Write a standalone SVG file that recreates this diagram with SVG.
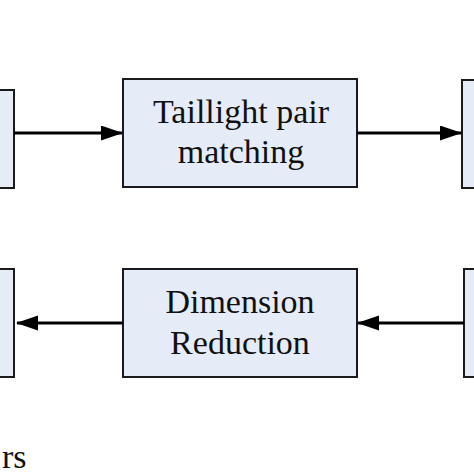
<svg xmlns="http://www.w3.org/2000/svg" width="474" height="474" viewBox="0 0 474 474">
<style>
.box{fill:#E6ECF7;stroke:#1a1a1a;stroke-width:2}
.lbl{font-family:"Liberation Serif","Times New Roman",serif;font-size:34px;fill:#111;text-anchor:middle}
.conn{stroke:#000;stroke-width:2.8;fill:none}
</style>
<defs>
<marker id="ah" markerUnits="userSpaceOnUse" markerWidth="22" markerHeight="16" refX="21" refY="7.5" orient="auto">
<path d="M0,0 L22,7.5 L0,15 Z" fill="#000"/>
</marker>
</defs>
<rect width="474" height="474" fill="#fff"/>
<g id="node-top-left"><rect class="box" x="-10" y="90" width="24" height="98"/></g>
<g id="node-taillight"><rect class="box" x="123" y="79" width="234" height="108"/>
<text class="lbl" x="241" y="123">Taillight pair</text>
<text class="lbl" x="241" y="163">matching</text></g>
<g id="node-top-right"><rect class="box" x="462" y="80" width="30" height="108"/></g>
<g id="node-bottom-left"><rect class="box" x="-10" y="269" width="24" height="108"/></g>
<g id="node-dimension"><rect class="box" x="123" y="269" width="234" height="108"/>
<text class="lbl" x="240" y="313">Dimension</text>
<text class="lbl" x="240" y="354">Reduction</text></g>
<g id="node-bottom-right"><rect class="box" x="464" y="269" width="30" height="108"/></g>
<g id="connectors">
<line class="conn" x1="14" y1="133" x2="122" y2="133" marker-end="url(#ah)"/>
<line class="conn" x1="357" y1="133" x2="461" y2="133" marker-end="url(#ah)"/>
<line class="conn" x1="464" y1="323" x2="358" y2="323" marker-end="url(#ah)"/>
<line class="conn" x1="123" y1="323" x2="17" y2="323" marker-end="url(#ah)"/>
</g>
<text x="2" y="468" style="font-family:'Liberation Serif','Times New Roman',serif;font-size:34px;fill:#111">rs</text>
</svg>
